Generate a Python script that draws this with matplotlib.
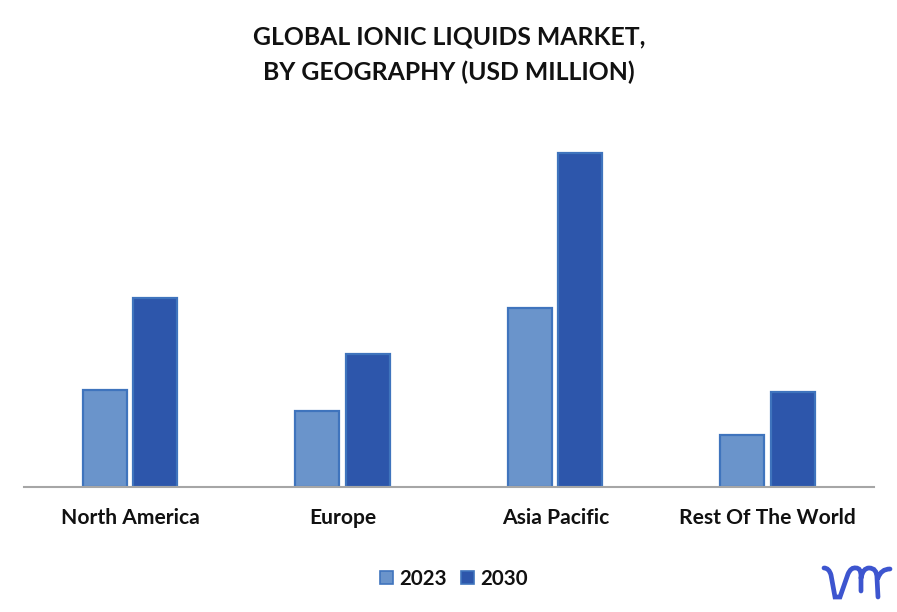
# global ionic liquids market bars
import matplotlib
matplotlib.use('Agg')
import matplotlib.pyplot as plt
import numpy as np
from matplotlib.patches import PathPatch, Rectangle
from matplotlib.path import Path

regions = ['North America', 'Europe', 'Asia Pacific', 'Rest Of The World']
years = ['2023', '2030']
values_2023 = [97, 76, 179, 52]
values_2030 = [189, 133, 334, 95]

W, H = 897, 612
plt.rcParams['font.family'] = ['Lato', 'DejaVu Sans']

fig = plt.figure(figsize=(W / 100, H / 100), dpi=100)
ax = fig.add_axes([24 / W, 1 - 487 / H, 850 / W, 340 / H])

x = np.arange(len(regions))
edge = '#3f74bd'
ax.bar(x - 0.12, values_2023, 0.206, color='#6a94cb', edgecolor=edge, linewidth=1.6)
ax.bar(x + 0.118, values_2030, 0.206, color='#2d56ab', edgecolor=edge, linewidth=1.6)

ax.set_xlim(-0.5, 3.5)
ax.set_ylim(0, 340)
ax.set_yticks([])
ax.set_xticks(x)
ax.set_xticklabels(regions, fontsize=15.1, fontweight='bold', color='#111111')
ax.tick_params(axis='x', length=0, pad=14.8)
for s in ['top', 'left', 'right']:
    ax.spines[s].set_visible(False)
ax.spines['bottom'].set_color('#a6a6a6')
ax.spines['bottom'].set_linewidth(1.5)

fig.text(449 / W, 1 - 37 / H, 'GLOBAL IONIC LIQUIDS MARKET,', ha='center', va='center',
         fontsize=17.85, fontweight='bold', color='#111111')
fig.text(449 / W, 1 - 72 / H, 'BY GEOGRAPHY (USD MILLION)', ha='center', va='center',
         fontsize=17.85, fontweight='bold', color='#111111')

# legend by hand, spacing of the automatic one did not fit
for px, col, year in [(380, '#6a94cb', years[0]), (461, '#2d56ab', years[1])]:
    fig.add_artist(Rectangle((px / W, 1 - 584 / H), 13 / W, 13 / H, transform=fig.transFigure,
                             facecolor=col, edgecolor=edge, linewidth=1.2))
    fig.text((px + 19) / W, 1 - 579 / H, year, ha='left', va='center', fontsize=14.8,
             fontweight='bold', color='#111111')

# vmr logo
M, L, C = Path.MOVETO, Path.LINETO, Path.CURVE3
logo = Path([(824, 568), (829, 568), (831, 575), (835, 597), (837, 597), (840, 597),
             (848, 574), (851, 567), (856, 568), (861, 568), (861, 576), (861, 591),
             (861, 578), (863, 568), (869, 568), (877, 568), (877, 578), (878, 597),
             (878, 578), (881, 569), (890, 569)],
            [M, C, C, L, C, C, L, C, C, C, C, L,
             M, C, C, C, C, L, M, C, C])
verts = [(a / W, 1 - b / H) for a, b in logo.vertices]
fig.add_artist(PathPatch(Path(verts, logo.codes), transform=fig.transFigure, fill=False,
                         edgecolor='#3d55cf', linewidth=3.4, capstyle='round'))

fig.savefig('out.png', dpi=100)
